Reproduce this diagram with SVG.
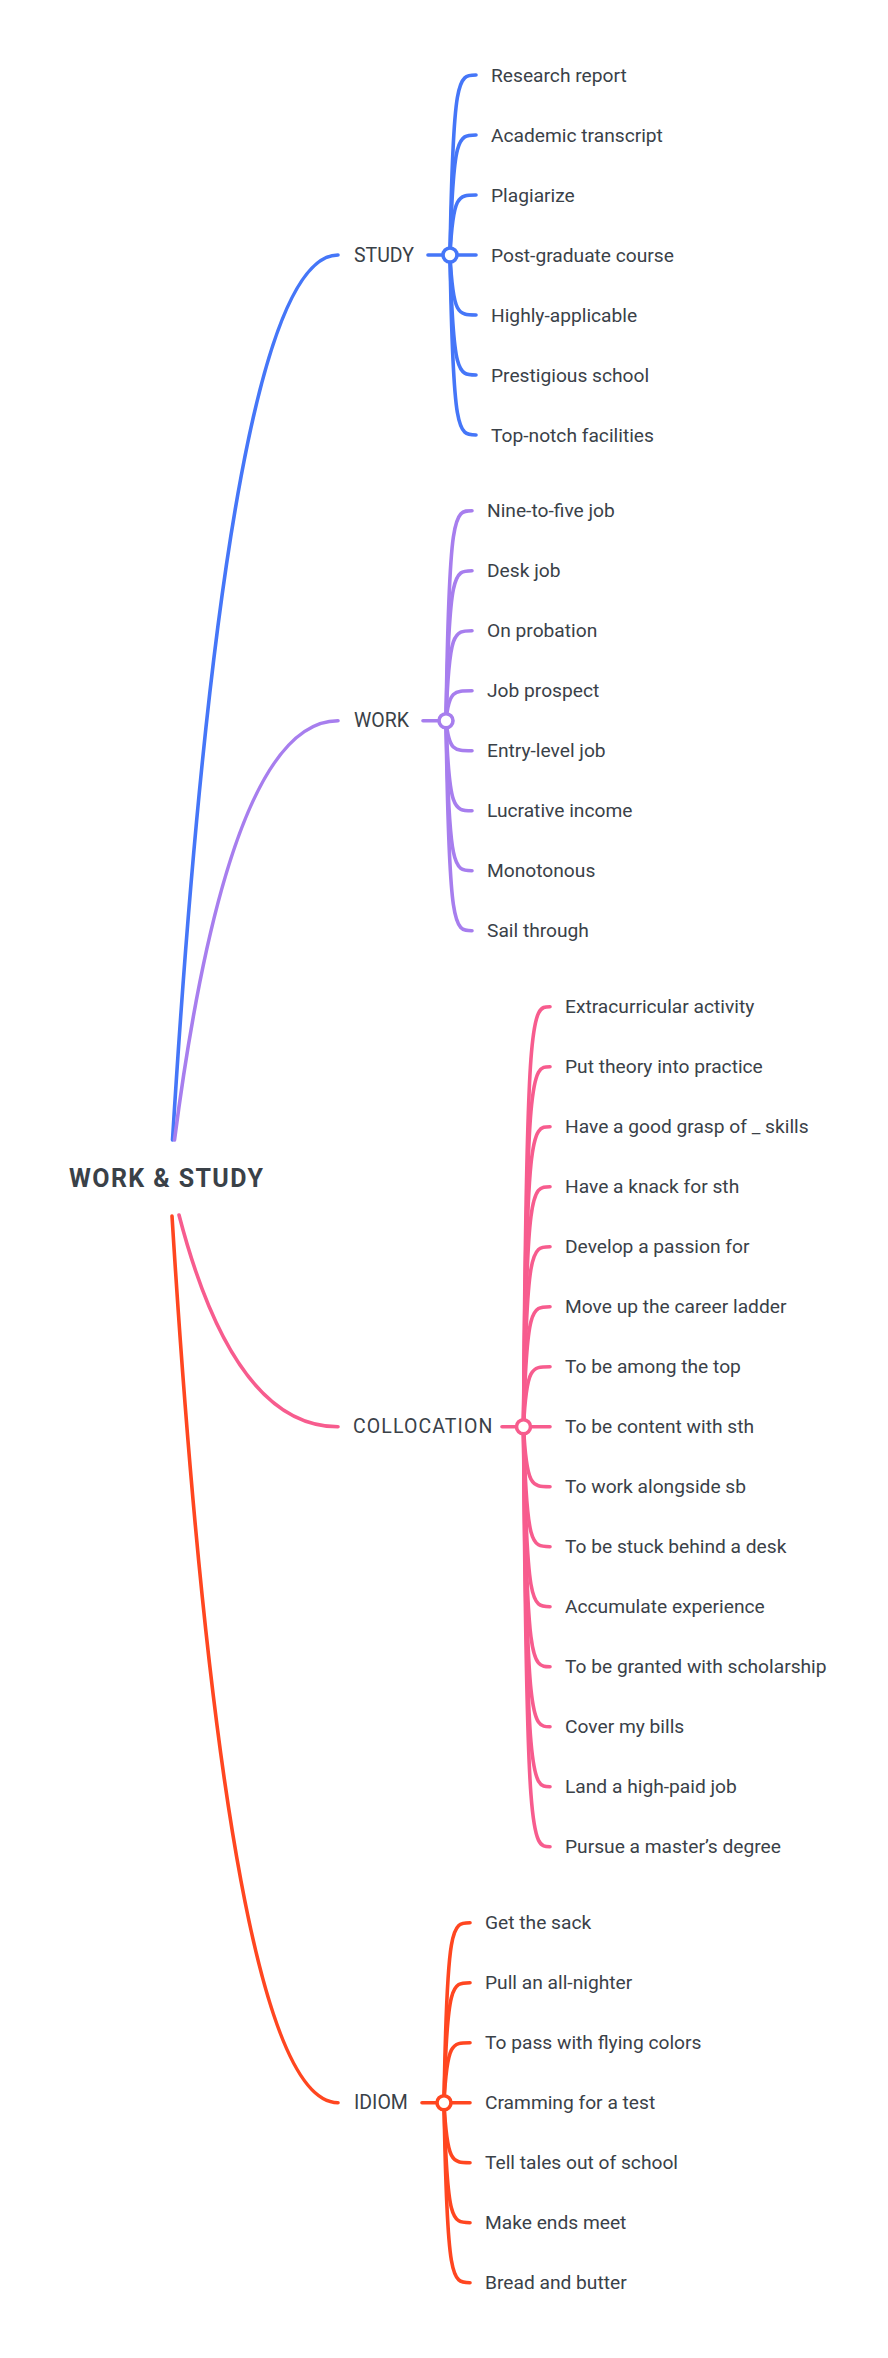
<svg xmlns="http://www.w3.org/2000/svg" width="888" height="2358" viewBox="0 0 888 2358">
<style>
.t{font-family:Roboto,"Liberation Sans",sans-serif;font-size:19.2px;fill:#3a4148}
.lbl{font-family:Roboto,"Liberation Sans",sans-serif;font-size:19.5px;fill:#3a4148}
.root{font-family:Roboto,"Liberation Sans",sans-serif;font-size:25px;font-weight:bold;fill:#3a4148;letter-spacing:1.4px}
.ln{fill:none;stroke-width:3.6;stroke-linecap:round}
.b{stroke:#4576f8}.p{stroke:#a77eee}.k{stroke:#f75c8e}.r{stroke:#ff4620}
.dot{fill:#fff;stroke-width:3.6}
</style>
<rect width="888" height="2358" fill="#fff"/>
<g id="connectors">
<path class="ln b" d="M172.5,1140 Q227,255 338,255"/>
<path class="ln p" d="M174.5,1140 Q229,720.7 338,720.7"/>
<path class="ln k" d="M179,1215 Q234,1426.7 338,1426.7"/>
<path class="ln r" d="M172,1216 Q227,2102.7 338,2102.7"/>
<g class="ln b">
<path d="M428,255 L450,255"/>
<path d="M450,255 C453,75 458,75 476,75"/>
<path d="M450,255 C453,135 458,135 476,135"/>
<path d="M450,255 C453,195 458,195 476,195"/>
<path d="M450,255 L476,255"/>
<path d="M450,255 C453,315 458,315 476,315"/>
<path d="M450,255 C453,375 458,375 476,375"/>
<path d="M450,255 C453,435 458,435 476,435"/>
</g>
<g class="ln p">
<path d="M423,720.7 L446,720.7"/>
<path d="M446,720.7 C449,510.7 454,510.7 472,510.7"/>
<path d="M446,720.7 C449,570.7 454,570.7 472,570.7"/>
<path d="M446,720.7 C449,630.7 454,630.7 472,630.7"/>
<path d="M446,720.7 C449,690.7 454,690.7 472,690.7"/>
<path d="M446,720.7 C449,750.7 454,750.7 472,750.7"/>
<path d="M446,720.7 C449,810.7 454,810.7 472,810.7"/>
<path d="M446,720.7 C449,870.7 454,870.7 472,870.7"/>
<path d="M446,720.7 C449,930.7 454,930.7 472,930.7"/>
</g>
<g class="ln k">
<path d="M502,1426.7 L523.5,1426.7"/>
<path d="M523.5,1426.7 C526.5,1006.7 531.5,1006.7 550,1006.7"/>
<path d="M523.5,1426.7 C526.5,1066.7 531.5,1066.7 550,1066.7"/>
<path d="M523.5,1426.7 C526.5,1126.7 531.5,1126.7 550,1126.7"/>
<path d="M523.5,1426.7 C526.5,1186.7 531.5,1186.7 550,1186.7"/>
<path d="M523.5,1426.7 C526.5,1246.7 531.5,1246.7 550,1246.7"/>
<path d="M523.5,1426.7 C526.5,1306.7 531.5,1306.7 550,1306.7"/>
<path d="M523.5,1426.7 C526.5,1366.7 531.5,1366.7 550,1366.7"/>
<path d="M523.5,1426.7 L550,1426.7"/>
<path d="M523.5,1426.7 C526.5,1486.7 531.5,1486.7 550,1486.7"/>
<path d="M523.5,1426.7 C526.5,1546.7 531.5,1546.7 550,1546.7"/>
<path d="M523.5,1426.7 C526.5,1606.7 531.5,1606.7 550,1606.7"/>
<path d="M523.5,1426.7 C526.5,1666.7 531.5,1666.7 550,1666.7"/>
<path d="M523.5,1426.7 C526.5,1726.7 531.5,1726.7 550,1726.7"/>
<path d="M523.5,1426.7 C526.5,1786.7 531.5,1786.7 550,1786.7"/>
<path d="M523.5,1426.7 C526.5,1846.7 531.5,1846.7 550,1846.7"/>
</g>
<g class="ln r">
<path d="M422,2102.7 L444,2102.7"/>
<path d="M444,2102.7 C447,1922.7 452,1922.7 470,1922.7"/>
<path d="M444,2102.7 C447,1982.7 452,1982.7 470,1982.7"/>
<path d="M444,2102.7 C447,2042.7 452,2042.7 470,2042.7"/>
<path d="M444,2102.7 L470,2102.7"/>
<path d="M444,2102.7 C447,2162.7 452,2162.7 470,2162.7"/>
<path d="M444,2102.7 C447,2222.7 452,2222.7 470,2222.7"/>
<path d="M444,2102.7 C447,2282.7 452,2282.7 470,2282.7"/>
</g>
</g>
<g id="root"><text class="root" x="69" y="1187">WORK &amp; STUDY</text></g>
<g id="study">
<text class="lbl" x="354" y="261.7">STUDY</text>
<circle class="dot" cx="450" cy="255" r="7" stroke="#4576f8"/>
</g>
<g id="study-children">
<text class="t" x="491" y="81.7">Research report</text>
<text class="t" x="491" y="141.7">Academic transcript</text>
<text class="t" x="491" y="201.7">Plagiarize</text>
<text class="t" x="491" y="261.7">Post-graduate course</text>
<text class="t" x="491" y="321.7">Highly-applicable</text>
<text class="t" x="491" y="381.7">Prestigious school</text>
<text class="t" x="491" y="441.7">Top-notch facilities</text>
</g>
<g id="work">
<text class="lbl" x="354" y="727.4">WORK</text>
<circle class="dot" cx="446" cy="720.7" r="7" stroke="#a77eee"/>
</g>
<g id="work-children">
<text class="t" x="487" y="517.4">Nine-to-five job</text>
<text class="t" x="487" y="577.4">Desk job</text>
<text class="t" x="487" y="637.4">On probation</text>
<text class="t" x="487" y="697.4">Job prospect</text>
<text class="t" x="487" y="757.4">Entry-level job</text>
<text class="t" x="487" y="817.4">Lucrative income</text>
<text class="t" x="487" y="877.4">Monotonous</text>
<text class="t" x="487" y="937.4">Sail through</text>
</g>
<g id="collocation">
<text class="lbl" x="353" y="1433.4" letter-spacing="1.1">COLLOCATION</text>
<circle class="dot" cx="523.5" cy="1426.7" r="7" stroke="#f75c8e"/>
</g>
<g id="collocation-children">
<text class="t" x="565" y="1013.4">Extracurricular activity</text>
<text class="t" x="565" y="1073.4">Put theory into practice</text>
<text class="t" x="565" y="1133.4">Have a good grasp of _ skills</text>
<text class="t" x="565" y="1193.4">Have a knack for sth</text>
<text class="t" x="565" y="1253.4">Develop a passion for</text>
<text class="t" x="565" y="1313.4">Move up the career ladder</text>
<text class="t" x="565" y="1373.4">To be among the top</text>
<text class="t" x="565" y="1433.4">To be content with sth</text>
<text class="t" x="565" y="1493.4">To work alongside sb</text>
<text class="t" x="565" y="1553.4">To be stuck behind a desk</text>
<text class="t" x="565" y="1613.4">Accumulate experience</text>
<text class="t" x="565" y="1673.4">To be granted with scholarship</text>
<text class="t" x="565" y="1733.4">Cover my bills</text>
<text class="t" x="565" y="1793.4">Land a high-paid job</text>
<text class="t" x="565" y="1853.4">Pursue a master’s degree</text>
</g>
<g id="idiom">
<text class="lbl" x="354" y="2109.4">IDIOM</text>
<circle class="dot" cx="444" cy="2102.7" r="7" stroke="#ff4620"/>
</g>
<g id="idiom-children">
<text class="t" x="485" y="1929.4">Get the sack</text>
<text class="t" x="485" y="1989.4">Pull an all-nighter</text>
<text class="t" x="485" y="2049.4">To pass with flying colors</text>
<text class="t" x="485" y="2109.4">Cramming for a test</text>
<text class="t" x="485" y="2169.4">Tell tales out of school</text>
<text class="t" x="485" y="2229.4">Make ends meet</text>
<text class="t" x="485" y="2289.4">Bread and butter</text>
</g>
</svg>
